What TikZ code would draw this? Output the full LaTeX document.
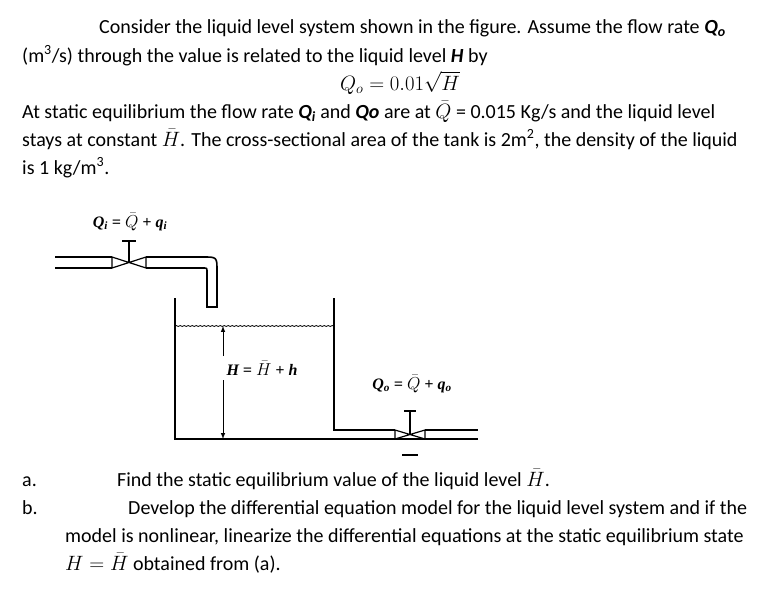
\documentclass[tikz,border=0pt]{standalone}
\usepackage{fontspec}
\setmainfont{Carlito}
\newfontfamily\labfont{Liberation Serif}
\usetikzlibrary{decorations.pathmorphing}
\begin{document}
\begin{tikzpicture}[x=1pt,y=-1pt,
  txt/.style={anchor=base west,inner sep=0,font=\fontsize{20}{24}\selectfont},
  lab/.style={inner sep=0,font=\fontsize{16}{19}\selectfont\labfont\itshape\bfseries},
  pipe/.style={line width=1.6pt},
  vlv/.style={line width=1.2pt}]
\useasboundingbox (0,0) rectangle (780,613);
\node[txt] (l1) at (99,33) {Consider the liquid level system shown in the figure. Assume the flow rate \textbf{\textit{Q\textsubscript{o}}}};
\node[txt] (l2) at (22,62) {(m\textsuperscript{3}/s) through the value is related to the liquid level \textbf{\textit{H}} by};
\node[txt,anchor=base] (eq) at (400,90) {$Q_o=0.01\sqrt{H}$};
\node[txt] (l4) at (22,118) {At static equilibrium the flow rate \textbf{\textit{Q\textsubscript{i}}} and \textbf{\textit{Qo}} are at $\bar{Q}$ = 0.015 Kg/s and the liquid level};
\node[txt] (l5) at (22,146) {stays at constant $\bar{H}$. The cross-sectional area of the tank is 2m\textsuperscript{2}, the density of the liquid};
\node[txt] (l6) at (22,174) {is 1 kg/m\textsuperscript{3}.};
\node[txt] (a) at (22,486) {a.};
\node[txt] (at) at (117,486) {Find the static equilibrium value of the liquid level $\bar{H}$.};
\node[txt] (b) at (22,514) {b.};
\node[txt] (bt) at (128,514) {Develop the differential equation model for the liquid level system and if the};
\node[txt] (b2) at (65,542) {model is nonlinear, linearize the differential equations at the static equilibrium state};
\node[txt] (b3) at (65,570) {$H=\bar{H}$ obtained from (a).};
% inlet pipe
\draw[pipe] (55,257) -- (112,257) (146,257) -- (203,257) .. controls (217,257) .. (217,271) -- (217,307) -- (207,307) -- (207,272) .. controls (207,268) .. (203,268) -- (146,268) (112,268) -- (55,268);
\draw[vlv] (112,257) -- (112,268) -- (146,257) -- (146,268) -- cycle;
\draw[vlv] (129,262.5) -- (129,241) (122,241) -- (136,241);
% tank
\draw[pipe] (175,298) -- (175,439) -- (478,439) (334,298) -- (334,430) -- (395,430) (425,430) -- (478,430);
\draw[vlv] (395,430) -- (395,439) -- (425,430) -- (425,439) -- cycle;
\draw[vlv] (410,434.5) -- (410,411) (404,411) -- (416,411);
\draw[vlv] (402,455) -- (418,455);
\draw[line width=0.8pt,decorate,decoration={snake,amplitude=0.5pt,segment length=4pt}] (175,326) -- (334,326);
\coordinate (top) at (223,326);
\coordinate (bot) at (223,439);
\node[lab,fill=white,inner sep=2pt] (hl) at (262,368) {H = $\bar{H}$ + h};
\draw[-latex,line width=1pt] (223,356) -- (top);
\draw[-latex,line width=1pt] (223,380) -- (bot);
\node[lab] (qi) at (130,222) {Q\textsubscript{i} = $\bar{Q}$ + q\textsubscript{i}};
\node[lab] (qo) at (412,384) {Q\textsubscript{o} = $\bar{Q}$ + q\textsubscript{o}};
\end{tikzpicture}
\end{document}
